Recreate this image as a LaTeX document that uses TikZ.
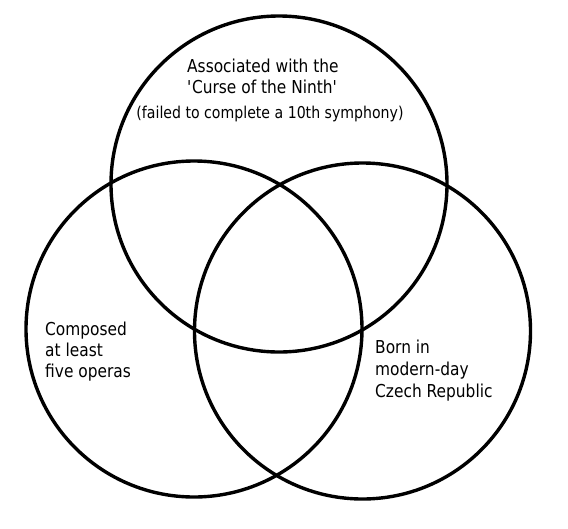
\documentclass[tikz,border=0pt]{standalone}
\usepackage{fontspec}
\setmainfont{DejaVu Sans}[FakeStretch=0.866]
\begin{document}
\begin{tikzpicture}[x=1pt,y=-1pt,
  ring/.style={draw=black,line width=3.4pt,circle,minimum size=336pt,inner sep=0pt},
  lbl/.style={font=\fontsize{17.8}{21.5}\selectfont,inner sep=0pt,align=left,text=black},
  small/.style={font=\fontsize{16.3}{20}\selectfont,inner sep=0pt,text=black}]
\useasboundingbox (0,0) rectangle (568,528);
\fill[white] (0,0) rectangle (568,528);
\node[ring] (top) at (279,184) {};
\node[ring] (left) at (194,329) {};
\node[ring] (right) at (362.5,331) {};
\node[lbl,anchor=base west] (t1) at (187,72) {Associated with the};
\node[lbl,anchor=base west] (t2) at (187,93.5) {\textquotesingle Curse of the Ninth\textquotesingle};
\node[small,anchor=base] (t3) at (270,118) {(failed to complete a 10th symphony)};
\node[lbl,anchor=base west] (l1) at (45,335) {Composed};
\node[lbl,anchor=base west] (l2) at (45,356) {at least};
\node[lbl,anchor=base west] (l3) at (45,377) {five operas};
\node[lbl,anchor=base west] (r1) at (375,353) {Born in};
\node[lbl,anchor=base west] (r2) at (375,375) {modern-day};
\node[lbl,anchor=base west] (r3) at (375,397) {Czech Republic};
\end{tikzpicture}
\end{document}
